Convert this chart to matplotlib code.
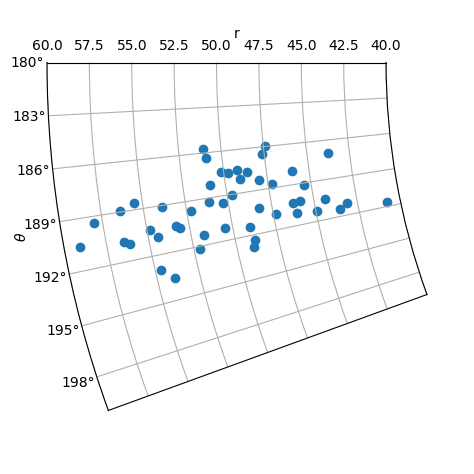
import matplotlib
matplotlib.use("Agg")
import matplotlib.pyplot as plt
import numpy as np

# point values: angle (degrees) and radius
theta_deg = [190.62, 189.36, 188.93, 188.61, 189.11, 189.65, 190.37, 190.87, 190.44, 190.61,
             190.82, 191.02, 192.92, 193.64, 185.74, 186.35, 185.95, 186.52, 187.41, 187.51,
             187.39, 187.61, 188.03, 188.13, 188.33, 188.69, 188.02, 189.08, 189.28, 189.45,
             190.25, 190.34, 190.26, 191.08, 190.87, 191.17, 191.35, 191.40, 192.35, 192.85,
             192.18, 187.02, 189.19, 191.23, 190.42, 191.39, 191.09, 191.66]
r_vals = [59.05, 58.02, 56.37, 55.47, 53.89, 52.27, 54.85, 54.45, 53.30, 53.09,
          56.48, 56.12, 54.65, 53.99, 51.04, 50.96, 47.37, 47.60, 50.14, 49.76,
          49.18, 48.65, 49.10, 50.90, 48.02, 47.25, 45.98, 49.69, 51.12, 50.32,
          48.28, 46.24, 45.82, 46.13, 47.36, 50.48, 51.78, 48.97, 48.84, 49.02,
          52.13, 43.74, 45.40, 44.94, 44.36, 43.60, 43.13, 40.79]

fig = plt.figure(figsize=(4.74, 4.74), dpi=100)
ax = fig.add_axes([0.0611, 0.1002, 0.8778, 0.8017], projection='polar')

ax.scatter(np.deg2rad(theta_deg), r_vals)

ax.set_thetamin(180)
ax.set_thetamax(200)
ax.set_rlim(40, 60)
ax.set_rorigin(0)
ax.set_xticks(np.deg2rad(np.arange(180, 200, 3)))
ax.set_yticks(np.arange(40, 60.1, 2.5))

ax.set_xlabel('r', labelpad=6)
ax.xaxis.set_label_position('top')
ax.set_ylabel(r'$\theta$', labelpad=2)

fig.savefig('out.png')
